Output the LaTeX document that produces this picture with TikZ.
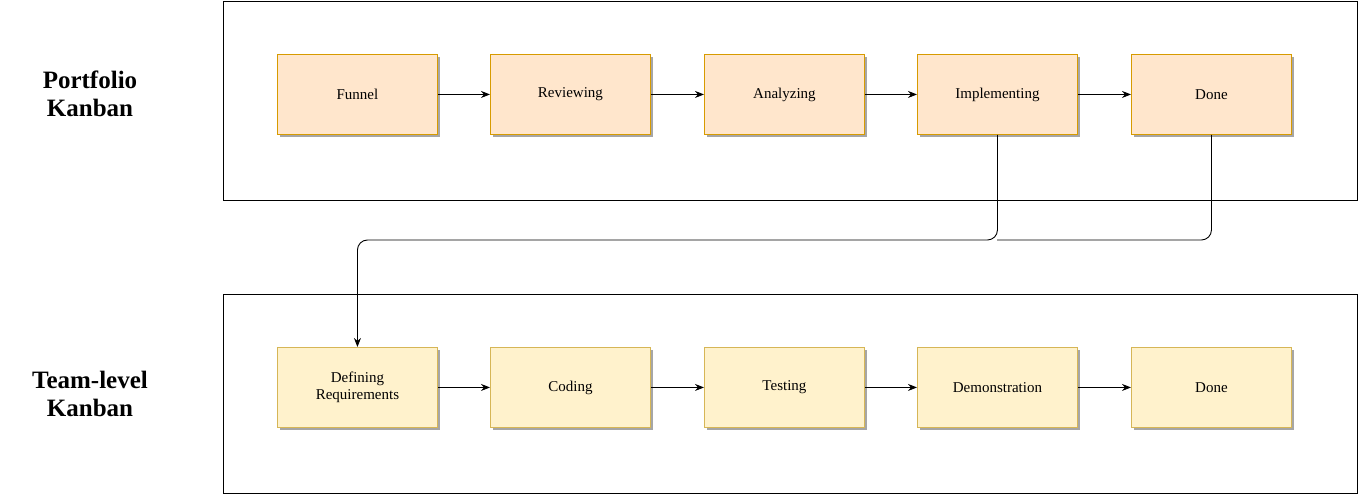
\documentclass[tikz,border=0pt]{standalone}
\usepackage{fontspec}
\setmainfont{Liberation Serif}
\usetikzlibrary{arrows.meta,shadows}
\definecolor{ofill}{HTML}{FFE6CC}\definecolor{oline}{HTML}{D79B00}
\definecolor{yfill}{HTML}{FFF2CC}\definecolor{yline}{HTML}{D6B656}
\begin{document}
\begin{tikzpicture}[x=1pt,y=-1pt,
 box/.style={draw, line width=0.9pt, minimum width=160pt, minimum height=80pt, anchor=north west, align=center, font=\fontsize{15}{17}\selectfont, drop shadow={shadow xshift=3pt, shadow yshift=-3pt, fill=black!35, opacity=1}},
 ob/.style={box, fill=ofill, draw=oline},
 yb/.style={box, fill=yfill, draw=yline},
 cont/.style={draw, line width=0.9pt, anchor=north west, minimum width=1134pt, minimum height=199pt},
 title/.style={font=\bfseries\fontsize{25}{28}\selectfont, align=center},
 arr/.style={-{Stealth[length=9pt,width=7pt]}, line width=0.9pt}]
\useasboundingbox (0,0) rectangle (1358,495);
\node[cont] (c1) at (223,1) {};
\node[cont] (c2) at (223,294) {};
\node[title] (t1) at (90,94) {Portfolio\\Kanban};
\node[title] (t2) at (90,394) {Team-level\\Kanban};
\node[ob] (a1) at (277,54) {Funnel};
\node[ob] (a2) at (490,54) {Reviewing};
\node[ob] (a3) at (704,54) {Analyzing};
\node[ob] (a4) at (917,54) {Implementing};
\node[ob] (a5) at (1131,54) {Done};
\node[yb] (b1) at (277,347) {Defining\\Requirements};
\node[yb] (b2) at (490,347) {Coding};
\node[yb] (b3) at (704,347) {Testing};
\node[yb] (b4) at (917,347) {Demonstration};
\node[yb] (b5) at (1131,347) {Done};
\foreach \i/\j in {1/2,2/3,3/4,4/5}{
 \draw[arr] (a\i.east) -- (a\j.west);
 \draw[arr] (b\i.east) -- (b\j.west);}
\coordinate (m) at (997,240);
\draw[arr, rounded corners=10pt] (a4.south) |- (b1.north |- m) -- (b1.north);
\draw[line width=0.9pt, rounded corners=10pt] (a5.south) |- (m);
\end{tikzpicture}
\end{document}
